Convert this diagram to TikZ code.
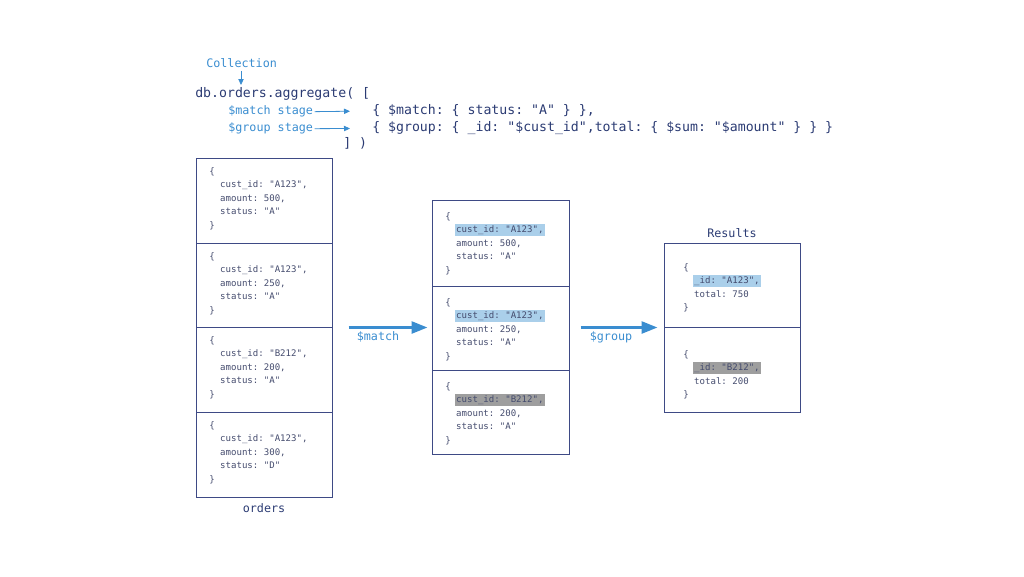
\documentclass[tikz,border=0pt]{standalone}
\usepackage{fontspec}
\setmonofont{DejaVu Sans Mono}
\usetikzlibrary{arrows.meta,positioning}

\definecolor{navy}{HTML}{2B3B73}
\definecolor{doctext}{HTML}{454C6E}
\definecolor{boxline}{HTML}{3E4A85}
\definecolor{tagblue}{HTML}{3A8DD0}
\definecolor{hlblue}{HTML}{AACFEA}
\definecolor{hlgrey}{HTML}{9E9E9E}

\newcommand{\hl}[2]{\kern-1.2pt{\setlength{\fboxsep}{1.2pt}\colorbox{#1}{\vphantom{Ag}#2}}}
\newcommand{\ind}{\hphantom{00}}

\begin{document}
\begin{tikzpicture}[x=0.75pt,y=-0.75pt,
  code/.style={font=\ttfamily\fontsize{9.9}{12}\selectfont, text=navy, anchor=mid west, inner sep=0},
  tag/.style={font=\ttfamily\fontsize{8.8}{10}\selectfont, text=tagblue, anchor=mid west, inner sep=0},
  title/.style={font=\ttfamily\fontsize{8.8}{10}\selectfont, text=navy, inner sep=0},
  doc/.style={font=\ttfamily\fontsize{6.8}{10.1}\selectfont, text=doctext, align=left, anchor=north west, inner sep=0},
  collbox/.style={draw=boxline, line width=0.75pt, inner sep=0},
  divider/.style={draw=boxline, line width=0.75pt},
  pointer/.style={-{Triangle[length=4.5pt,width=4pt]}, draw=tagblue, line width=0.6pt},
  flow/.style={-{Triangle[length=12pt,width=9pt]}, draw=tagblue, line width=2pt}]
\useasboundingbox (0,0) rectangle (1024,576);

\node[tag] (colltag) at (206,65) {Collection};
\node[code] (dbline) at (195,95) {db.orders.aggregate( [};
\node[tag] (matchtag) at (228,112) {\$match stage};
\node[code] (matchcode) at (372,112) {\{ \$match: \{ status: "A" \} \},};
\node[tag] (grouptag) at (228,129) {\$group stage};
\node[code] (groupcode) at (372,129) {\{ \$group: \{ \_id: "\$cust\_id",total: \{ \$sum: "\$amount" \} \} \}};
\node[code] (closing) at (343,145) {] )};
\draw[pointer, shorten <=2pt] (colltag.south -| 241,0) -- (241,85);
\draw[pointer, shorten <=1pt, shorten >=16.5pt] (matchtag.east) -- (matchcode.west);
\draw[pointer, shorten <=1pt, shorten >=16.5pt] (grouptag.east) -- (groupcode.west);

\node[collbox, minimum width=102pt, minimum height=254.25pt] (orders) at (264,327.5) {};
\draw[divider] (196,243) -- (332,243);
\draw[divider] (196,327) -- (332,327);
\draw[divider] (196,412) -- (332,412);
\node[title, below=4.5pt of orders] (orderslbl) {orders};
\node[doc] (o1) at (209,167) {\{\\\ind cust\_id: "A123",\\\ind amount: 500,\\\ind status: "A"\\\}};
\node[doc] (o2) at (209,252) {\{\\\ind cust\_id: "A123",\\\ind amount: 250,\\\ind status: "A"\\\}};
\node[doc] (o3) at (209,336) {\{\\\ind cust\_id: "B212",\\\ind amount: 200,\\\ind status: "A"\\\}};
\node[doc] (o4) at (209,421) {\{\\\ind cust\_id: "A123",\\\ind amount: 300,\\\ind status: "D"\\\}};

\node[collbox, minimum width=102.75pt, minimum height=190.5pt] (matched) at (500.5,327.5) {};
\draw[divider] (432,286) -- (569,286);
\draw[divider] (432,370) -- (569,370);
\node[doc] (m1) at (445,212) {\{\\\ind \hl{hlblue}{cust\_id: "A123",}\\\ind amount: 500,\\\ind status: "A"\\\}};
\node[doc] (m2) at (445,298) {\{\\\ind \hl{hlblue}{cust\_id: "A123",}\\\ind amount: 250,\\\ind status: "A"\\\}};
\node[doc] (m3) at (445,382) {\{\\\ind \hl{hlgrey}{cust\_id: "B212",}\\\ind amount: 200,\\\ind status: "A"\\\}};

\node[collbox, minimum width=102pt, minimum height=126.75pt] (results) at (732,327.5) {};
\draw[divider] (664,327) -- (800,327);
\node[title, above=3.5pt of results] (resultslbl) {Results};
\node[doc] (r1) at (683,263) {\{\\\ind \hl{hlblue}{\_id: "A123",}\\\ind total: 750\\\}};
\node[doc] (r2) at (683,350) {\{\\\ind \hl{hlgrey}{\_id: "B212",}\\\ind total: 200\\\}};

\draw[flow, shorten <=12pt, shorten >=3pt] (orders) -- (matched);
\node[tag, anchor=center] (matchlbl) at (378,337) {\$match};
\draw[flow, shorten <=8.25pt, shorten >=4.5pt] (matched) -- (results);
\node[tag, anchor=center] (grouplbl) at (611,337) {\$group};
\end{tikzpicture}
\end{document}
